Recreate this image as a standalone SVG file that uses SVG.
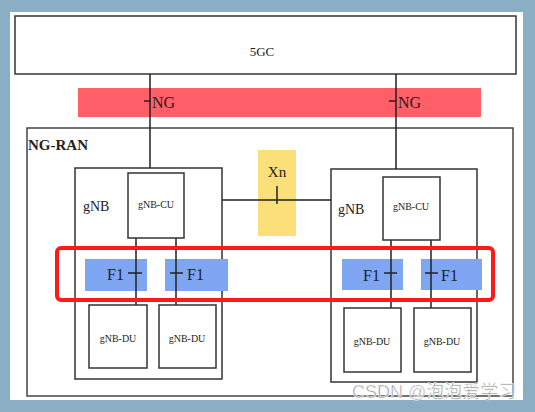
<svg xmlns="http://www.w3.org/2000/svg" width="535" height="412" viewBox="0 0 535 412">
<style>
.box{fill:#fff;stroke:#333;stroke-width:1.5}
.frame{fill:none;stroke:#444;stroke-width:1.5}
.ln{stroke:#222;stroke-width:1.5;fill:none}
.t{font-family:"Liberation Serif","DejaVu Serif",serif;fill:#222}
.f1{fill:#7fa6f2}
</style>
<rect x="0" y="0" width="535" height="412" fill="#8aaec4"/>
<rect x="10" y="12" width="513" height="388" fill="#fff"/>
<rect x="78" y="88" width="403" height="29" fill="#ff5f67"/>
<rect x="258" y="150" width="38" height="86" fill="#fbe07a"/>
<g id="core">
<rect class="box" x="15" y="16" width="501" height="58"/>
<text class="t" x="262" y="56" font-size="13" text-anchor="middle">5GC</text>
</g>
<g id="ngran">
<rect class="frame" x="27" y="128" width="486" height="268"/>
<text class="t" x="28" y="150" font-size="15" font-weight="bold">NG-RAN</text>
</g>
<g id="gnb-left">
<rect class="box" x="75" y="168" width="147" height="211"/>
<text class="t" x="83" y="211" font-size="14">gNB</text>
</g>
<g id="gnb-right">
<rect class="box" x="331" y="169" width="146" height="213"/>
<text class="t" x="338" y="214" font-size="14">gNB</text>
</g>
<g id="f1-boxes">
<rect class="f1" x="85" y="259" width="62" height="32"/>
<rect class="f1" x="165" y="259" width="63" height="32"/>
<rect class="f1" x="342" y="259" width="61" height="31"/>
<rect class="f1" x="421" y="259" width="61" height="31"/>
</g>
<g id="connectors">
<path class="ln" d="M150 74V168M396 74V169M144 101H151M389 101H396"/>
<path class="ln" d="M222 200H331M277 186V204"/>
<path class="ln" d="M136 238V305M176 238V305M391 240V308M431 240V308"/>
<path class="ln" d="M128 273H142M170 273H183M384 273H397M425 273H438"/>
</g>
<g id="labels">
<text class="t" x="152" y="108" font-size="16">NG</text>
<text class="t" x="398" y="108" font-size="16">NG</text>
<text class="t" x="277" y="177" font-size="15" text-anchor="middle">Xn</text>
<text class="t" x="107" y="280" font-size="16">F1</text>
<text class="t" x="187" y="280" font-size="16">F1</text>
<text class="t" x="363" y="281" font-size="16">F1</text>
<text class="t" x="441" y="281" font-size="16">F1</text>
</g>
<g id="cu-left">
<rect class="box" x="128" y="173" width="56" height="65"/>
<text class="t" x="156" y="208" font-size="10" text-anchor="middle">gNB-CU</text>
</g>
<g id="cu-right">
<rect class="box" x="383" y="177" width="57" height="63"/>
<text class="t" x="411" y="210" font-size="10" text-anchor="middle">gNB-CU</text>
</g>
<g id="du-left-1">
<rect class="box" x="89" y="305" width="58" height="63"/>
<text class="t" x="118" y="342" font-size="10" text-anchor="middle">gNB-DU</text>
</g>
<g id="du-left-2">
<rect class="box" x="159" y="305" width="57" height="63"/>
<text class="t" x="187" y="342" font-size="10" text-anchor="middle">gNB-DU</text>
</g>
<g id="du-right-1">
<rect class="box" x="344" y="308" width="57" height="64"/>
<text class="t" x="372" y="345" font-size="10" text-anchor="middle">gNB-DU</text>
</g>
<g id="du-right-2">
<rect class="box" x="414" y="308" width="57" height="64"/>
<text class="t" x="442" y="345" font-size="10" text-anchor="middle">gNB-DU</text>
</g>
<rect x="57" y="248" width="436" height="52" rx="4" fill="none" stroke="#ff1a1a" stroke-width="4"/>
<text x="352" y="398" font-size="18" font-family="'Liberation Sans','Noto Sans CJK SC',sans-serif" fill="#9a9a9a" stroke="#fff" stroke-width="0.5">CSDN @泡泡爱学习</text>
</svg>
